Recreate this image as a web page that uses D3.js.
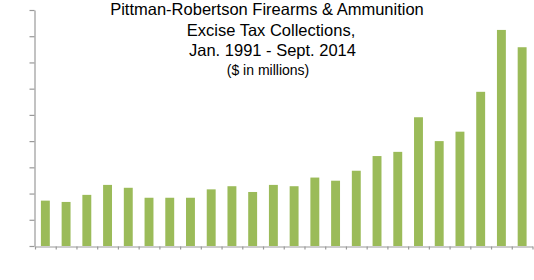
<!DOCTYPE html>
<html>
<head>
<meta charset="utf-8">
<script src="https://cdn.jsdelivr.net/npm/d3@7"></script>
<style>
  html, body { margin: 0; padding: 0; background: #fff; }
  svg { display: block; font-family: "Liberation Sans", Arial, sans-serif; }
</style>
</head>
<body>
<svg id="chart" width="534" height="280"></svg>
<script>
const years = [1991,1992,1993,1994,1995,1996,1997,1998,1999,2000,2001,2002,2003,2004,2005,2006,2007,2008,2009,2010,2011,2012,2013,2014];
const values = [173,168,195,233,222,184,184,184,216,228,206,233,228,261,249,287,343,359,491,400,436,588,824,758];
const yTicks = [0,100,200,300,400,500,600,700,800,900];
const titleLines = ["Pittman-Robertson Firearms & Ammunition", "Excise Tax Collections,", "Jan. 1991 - Sept. 2014"];
const subtitle = "($ in millions)";

const svg = d3.select("#chart");
const axisColor = "#999999";
const barColor = "#9bbb59";

const x = d3.scaleBand().domain(years).range([35, 532.5]).paddingInner(0.57).paddingOuter(0.285);
const xEdge = d3.scaleLinear().domain([0, years.length]).range([35, 532.5]);
const y = d3.scaleLinear().domain([0, 900]).range([246, 10]);

svg.append("g").selectAll("rect").data(values).join("rect")
  .attr("x", (d, i) => x(years[i]))
  .attr("width", x.bandwidth())
  .attr("y", d => y(d))
  .attr("height", d => y(0) - y(d))
  .attr("fill", barColor);

const yAxis = svg.append("g").attr("transform", "translate(34.5,0)")
  .call(d3.axisLeft(y).tickValues(yTicks).tickSize(5).tickSizeOuter(0).tickFormat(""));
const xAxis = svg.append("g").attr("transform", "translate(0,246.5)")
  .call(d3.axisBottom(xEdge).tickValues(d3.range(years.length + 1)).tickSize(3).tickSizeOuter(0).tickFormat(""));
[yAxis, xAxis].forEach(g => {
  g.selectAll("path, line").attr("stroke", axisColor).attr("stroke-width", 1.2);
});

const centers = [267, 271, 272.5];
titleLines.forEach((t, i) => {
  svg.append("text").attr("x", centers[i]).attr("y", 15 + i * 20.5)
    .attr("text-anchor", "middle").attr("font-size", 16.5).attr("fill", "#000").text(t);
});
svg.append("text").attr("x", 268).attr("y", 75)
  .attr("text-anchor", "middle").attr("font-size", 14).attr("fill", "#000").text(subtitle);
</script>
</body>
</html>
